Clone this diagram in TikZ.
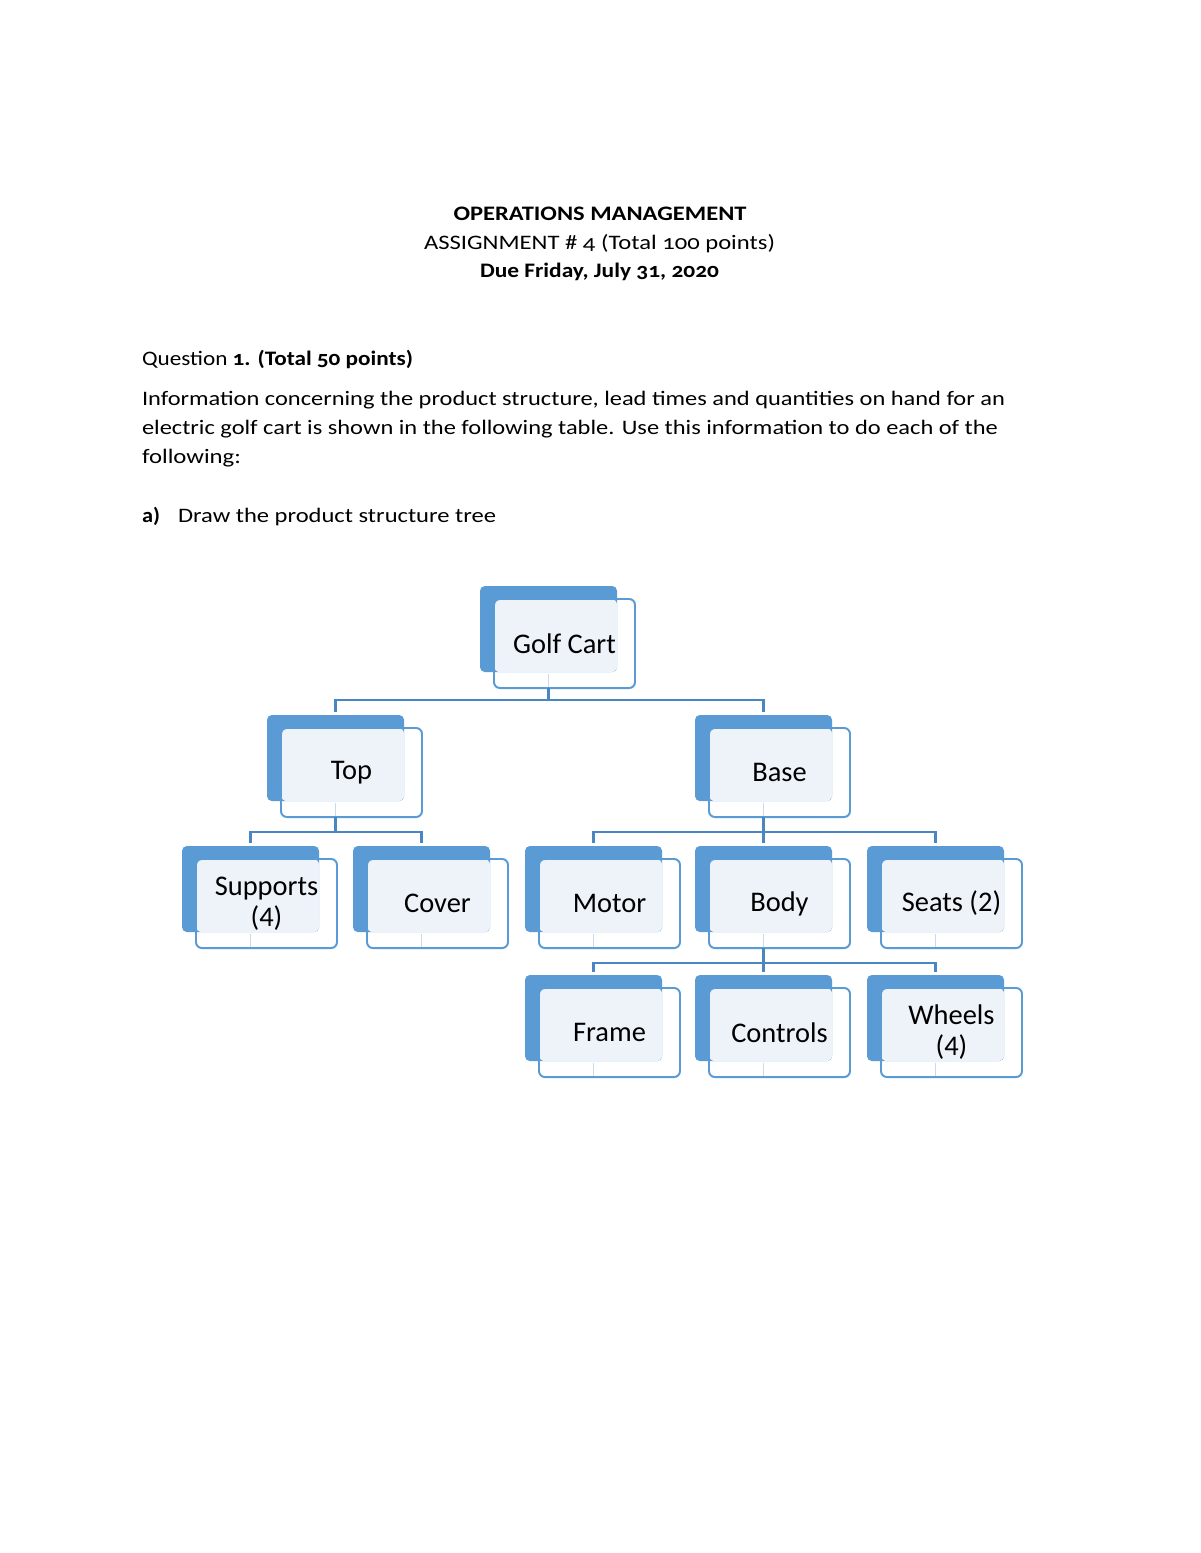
\documentclass[tikz,border=0pt]{standalone}
\usepackage{fontspec}
\usepackage{graphicx}
\setmainfont{Carlito}
\newfontfamily\hdfont[Numbers=OldStyle]{Carlito}
\usetikzlibrary{calc}
\definecolor{backblue}{HTML}{5B9BD5}
\definecolor{lightfill}{HTML}{EEF3FA}
\definecolor{linkblue}{HTML}{4A86C2}
\definecolor{faintblue}{HTML}{C9DAEE}
\newlength\pxu \setlength\pxu{0.51pt}
\newcommand\fitw[2]{\resizebox{#1\pxu}{\height}{#2}}
\newcommand\pbox[4]{% name, x, y, text
  \node[backbox] (#1b) at (#2,#3) {};
  \fill[lightfill, rounded corners=3pt] ($(#2,#3)+(14,13)$) rectangle (#1b.south east);
  \draw[faintline] ($(#2,#3)+(68.5,88)$) -- ($(#2,#3)+(68.5,102)$);
  \node[frontbox] (#1) at ($(#2,#3)+(14,13)$) {#4};
  \coordinate (#1-out) at (#1b.center |- #1.south);
}
\newcommand\plink[3]{% parent, child, bus distance
  \draw[conn] (#1-out) -- ($(#1-out)+(0,#3)$) -| ($(#2b.north)+(0,-3)$);
}
\begin{document}
\begin{tikzpicture}[x=0.51pt,y=-0.51pt,
  backbox/.style={draw=none, fill=backblue, rounded corners=2.5pt,
    minimum width=69.9pt, minimum height=43.9pt, inner sep=0pt, outer sep=0pt, anchor=north west},
  frontbox/.style={draw=backblue, line width=1pt, rounded corners=3pt,
    minimum width=71.9pt, minimum height=45.4pt, inner sep=0pt, outer sep=0pt, anchor=north west,
    align=center, font=\fontsize{14.5pt}{15.8pt}\selectfont},
  faintline/.style={draw=faintblue, line width=1pt},
  conn/.style={draw=linkblue, line width=1.25pt},
  txt/.style={inner sep=0pt, outer sep=0pt, font=\hdfont\fontsize{10.5pt}{12pt}\selectfont}]
\useasboundingbox (0,0) rectangle (1200,1553);
\fill[white] (0,0) rectangle (1200,1553);

% header text
\node[txt, anchor=base] (h1) at (600,221) {\fitw{293}{\textbf{OPERATIONS MANAGEMENT}}};
\node[txt, anchor=base] (h2) at (599.5,249) {\fitw{351}{ASSIGNMENT \# 4 (Total 100 points)}};
\node[txt, anchor=base] (h3) at (599.5,277) {\fitw{239}{\textbf{Due Friday, July 31, 2020}}};
\node[txt, anchor=base west] (q1) at (142,365) {\fitw{271}{Question \textbf{1. (Total 50 points)}}};
\node[txt, anchor=base west] (p1) at (142,405) {\fitw{863}{Information concerning the product structure, lead times and quantities on hand for an}};
\node[txt, anchor=base west] (p2) at (142,434) {\fitw{856}{electric golf cart is shown in the following table. Use this information to do each of the}};
\node[txt, anchor=base west] (p3) at (142,463) {\fitw{99}{following:}};
\node[txt, anchor=base west] (a1) at (142,522) {\fitw{18}{\textbf{a)}}};
\node[txt, anchor=base west] (a2) at (178,522) {\fitw{318}{Draw the product structure tree}};

% boxes
\pbox{gc}{480}{586}{Golf Cart}
\pbox{top}{267}{715}{Top}
\pbox{base}{695}{715}{Base}
\pbox{sup}{182}{846}{Supports\\(4)}
\pbox{cov}{353}{846}{Cover}
\pbox{mot}{525}{846}{Motor}
\pbox{body}{695}{846}{Body}
\pbox{seat}{867}{846}{Seats (2)}
\pbox{frame}{525}{975}{Frame}
\pbox{ctrl}{695}{975}{Controls}
\pbox{whl}{867}{975}{Wheels\\(4)}

% connectors
\plink{gc}{top}{12}
\plink{gc}{base}{12}
\plink{top}{sup}{15}
\plink{top}{cov}{15}
\plink{base}{mot}{15}
\plink{base}{body}{15}
\plink{base}{seat}{15}
\plink{body}{frame}{15}
\plink{body}{ctrl}{15}
\plink{body}{whl}{15}
\end{tikzpicture}
\end{document}
